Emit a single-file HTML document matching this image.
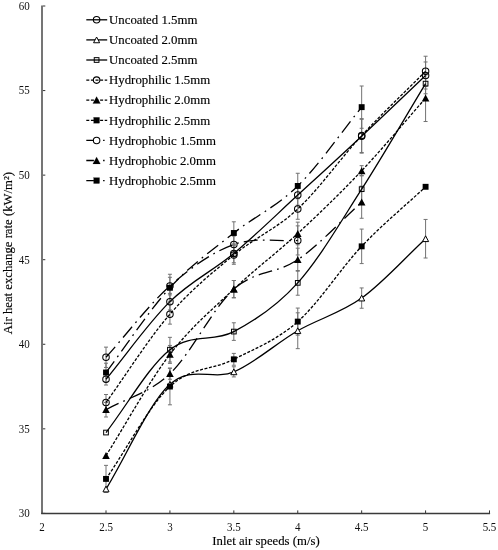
<!DOCTYPE html>
<html><head><meta charset="utf-8"><title>Air heat exchange rate chart</title>
<style>html,body{margin:0;padding:0;background:#fff}body{width:498px;height:550px;overflow:hidden}</style></head>
<body>
<svg width="498" height="550" viewBox="0 0 498 550" style="display:block;font-family:'Liberation Serif',serif">
<rect width="498" height="550" fill="#fff"/>
<g stroke="#333" stroke-width="1" fill="none">
<line x1="42.8" y1="513.40" x2="45.3" y2="513.40"/>
<line x1="42.8" y1="428.83" x2="45.3" y2="428.83"/>
<line x1="42.8" y1="344.27" x2="45.3" y2="344.27"/>
<line x1="42.8" y1="259.70" x2="45.3" y2="259.70"/>
<line x1="42.8" y1="175.13" x2="45.3" y2="175.13"/>
<line x1="42.8" y1="90.57" x2="45.3" y2="90.57"/>
<line x1="42.8" y1="6.00" x2="45.3" y2="6.00"/>
<line x1="42.10" y1="513" x2="42.10" y2="510.4"/>
<line x1="106.01" y1="513" x2="106.01" y2="510.4"/>
<line x1="169.93" y1="513" x2="169.93" y2="510.4"/>
<line x1="233.84" y1="513" x2="233.84" y2="510.4"/>
<line x1="297.76" y1="513" x2="297.76" y2="510.4"/>
<line x1="361.67" y1="513" x2="361.67" y2="510.4"/>
<line x1="425.59" y1="513" x2="425.59" y2="510.4"/>
<line x1="489.50" y1="513" x2="489.50" y2="510.4"/>
</g>
<line x1="42" y1="5.5" x2="42" y2="514" stroke="#666" stroke-width="1.8"/>
<line x1="41.2" y1="513.5" x2="490.1" y2="513.5" stroke="#3a3a3a" stroke-width="1.5"/>
<g font-size="11.6" fill="#111" text-anchor="end">
<text transform="translate(29.8 517.20) scale(0.948 1)">30</text>
<text transform="translate(29.8 432.63) scale(0.948 1)">35</text>
<text transform="translate(29.8 348.07) scale(0.948 1)">40</text>
<text transform="translate(29.8 263.50) scale(0.948 1)">45</text>
<text transform="translate(29.8 178.93) scale(0.948 1)">50</text>
<text transform="translate(29.8 94.37) scale(0.948 1)">55</text>
<text transform="translate(29.8 9.80) scale(0.948 1)">60</text>
</g>
<g font-size="11.6" fill="#111" text-anchor="middle">
<text transform="translate(42.10 530.8) scale(0.948 1)">2</text>
<text transform="translate(106.01 530.8) scale(0.948 1)">2.5</text>
<text transform="translate(169.93 530.8) scale(0.948 1)">3</text>
<text transform="translate(233.84 530.8) scale(0.948 1)">3.5</text>
<text transform="translate(297.76 530.8) scale(0.948 1)">4</text>
<text transform="translate(361.67 530.8) scale(0.948 1)">4.5</text>
<text transform="translate(425.59 530.8) scale(0.948 1)">5</text>
<text transform="translate(489.50 530.8) scale(0.948 1)">5.5</text>
</g>
<text transform="translate(266 545.3) scale(0.946 1)" font-size="13.5" fill="#000" stroke="#000" stroke-width="0.15" text-anchor="middle">Inlet air speeds (m/s)</text>
<text transform="translate(11.5 253.1) rotate(-90)" font-size="12.75" fill="#000" stroke="#000" stroke-width="0.15" text-anchor="middle">Air heat exchange rate (kW/m²)</text>
<g stroke="#727272" stroke-width="1" fill="none">
<path d="M106.01 373.53 V385.03 M104.01 373.53 h4 M104.01 385.03 h4"/>
<path d="M169.93 293.36 V309.93 M167.93 293.36 h4 M167.93 309.93 h4"/>
<path d="M233.84 244.14 V262.74 M231.84 244.14 h4 M231.84 262.74 h4"/>
<path d="M297.76 184.94 V205.24 M295.76 184.94 h4 M295.76 205.24 h4"/>
<path d="M361.67 119.32 V153.15 M359.67 119.32 h4 M359.67 153.15 h4"/>
<path d="M425.59 61.98 V89.04 M423.59 61.98 h4 M423.59 89.04 h4"/>
<path d="M233.84 366.76 V376.91 M231.84 366.76 h4 M231.84 376.91 h4"/>
<path d="M297.76 312.81 V348.66 M295.76 312.81 h4 M295.76 348.66 h4"/>
<path d="M361.67 287.95 V308.24 M359.67 287.95 h4 M359.67 308.24 h4"/>
<path d="M425.59 219.45 V258.01 M423.59 219.45 h4 M423.59 258.01 h4"/>
<path d="M169.93 337.33 V362.03 M167.93 337.33 h4 M167.93 362.03 h4"/>
<path d="M233.84 322.79 V340.38 M231.84 322.79 h4 M231.84 340.38 h4"/>
<path d="M297.76 270.52 V295.22 M295.76 270.52 h4 M295.76 295.22 h4"/>
<path d="M361.67 175.64 V202.70 M359.67 175.64 h4 M359.67 202.70 h4"/>
<path d="M425.59 73.48 V93.78 M423.59 73.48 h4 M423.59 93.78 h4"/>
<path d="M106.01 394.50 V410.40 M104.01 394.50 h4 M104.01 410.40 h4"/>
<path d="M169.93 304.18 V324.14 M167.93 304.18 h4 M167.93 324.14 h4"/>
<path d="M233.84 245.66 V264.27 M231.84 245.66 h4 M231.84 264.27 h4"/>
<path d="M297.76 198.64 V219.28 M295.76 198.64 h4 M295.76 219.28 h4"/>
<path d="M361.67 118.64 V152.47 M359.67 118.64 h4 M359.67 152.47 h4"/>
<path d="M425.59 56.23 V86.34 M423.59 56.23 h4 M423.59 86.34 h4"/>
<path d="M169.93 345.45 V363.38 M167.93 345.45 h4 M167.93 363.38 h4"/>
<path d="M233.84 280.50 V297.75 M231.84 280.50 h4 M231.84 297.75 h4"/>
<path d="M297.76 222.15 V244.82 M295.76 222.15 h4 M295.76 244.82 h4"/>
<path d="M361.67 165.66 V175.81 M359.67 165.66 h4 M359.67 175.81 h4"/>
<path d="M425.59 74.84 V121.52 M423.59 74.84 h4 M423.59 121.52 h4"/>
<path d="M106.01 465.37 V492.43 M104.01 465.37 h4 M104.01 492.43 h4"/>
<path d="M169.93 368.28 V404.82 M167.93 368.28 h4 M167.93 404.82 h4"/>
<path d="M233.84 353.40 V365.24 M231.84 353.40 h4 M231.84 365.24 h4"/>
<path d="M297.76 308.07 V335.13 M295.76 308.07 h4 M295.76 335.13 h4"/>
<path d="M361.67 229.09 V263.59 M359.67 229.09 h4 M359.67 263.59 h4"/>
<path d="M106.01 347.14 V367.44 M104.01 347.14 h4 M104.01 367.44 h4"/>
<path d="M169.93 277.29 V294.88 M167.93 277.29 h4 M167.93 294.88 h4"/>
<path d="M233.84 236.02 V252.93 M231.84 236.02 h4 M231.84 252.93 h4"/>
<path d="M297.76 225.87 V254.96 M295.76 225.87 h4 M295.76 254.96 h4"/>
<path d="M106.01 402.45 V416.99 M104.01 402.45 h4 M104.01 416.99 h4"/>
<path d="M169.93 368.11 V379.28 M167.93 368.11 h4 M167.93 379.28 h4"/>
<path d="M233.84 280.50 V297.75 M231.84 280.50 h4 M231.84 297.75 h4"/>
<path d="M297.76 248.20 V271.20 M295.76 248.20 h4 M295.76 271.20 h4"/>
<path d="M361.67 186.13 V218.26 M359.67 186.13 h4 M359.67 218.26 h4"/>
<path d="M106.01 363.21 V381.81 M104.01 363.21 h4 M104.01 381.81 h4"/>
<path d="M169.93 274.25 V301.31 M167.93 274.25 h4 M167.93 301.31 h4"/>
<path d="M233.84 221.81 V244.14 M231.84 221.81 h4 M231.84 244.14 h4"/>
<path d="M297.76 173.27 V198.64 M295.76 173.27 h4 M295.76 198.64 h4"/>
<path d="M361.67 86.00 V128.28 M359.67 86.00 h4 M359.67 128.28 h4"/>
</g>
<path d="M106.01 379.28 C127.32 353.40 148.62 322.62 169.93 301.65 C191.23 280.67 212.54 271.20 233.84 253.44 C255.15 235.68 276.45 214.63 297.76 195.09 C319.06 175.56 340.37 156.16 361.67 136.23 C382.98 116.30 404.28 95.75 425.59 75.51" fill="none" stroke="#000" stroke-width="1.30"/>
<circle cx="106.01" cy="379.28" r="3.25" fill="none" stroke="#000" stroke-width="1.05"/>
<circle cx="169.93" cy="301.65" r="3.25" fill="none" stroke="#000" stroke-width="1.05"/>
<circle cx="233.84" cy="253.44" r="3.25" fill="none" stroke="#000" stroke-width="1.05"/>
<circle cx="297.76" cy="195.09" r="3.25" fill="none" stroke="#000" stroke-width="1.05"/>
<circle cx="361.67" cy="136.23" r="3.25" fill="none" stroke="#000" stroke-width="1.05"/>
<circle cx="425.59" cy="75.51" r="3.25" fill="none" stroke="#000" stroke-width="1.05"/>
<path d="M106.01 489.04 C127.32 454.15 148.62 403.89 169.93 384.35 C191.23 364.82 212.54 380.77 233.84 371.84 C255.15 362.90 276.45 343.03 297.76 330.74 C319.06 318.45 340.37 313.43 361.67 298.09 C382.98 282.76 404.28 258.52 425.59 238.73" fill="none" stroke="#000" stroke-width="1.30"/>
<path d="M106.01 486.14 L109.06 491.89 L102.96 491.89 Z" fill="#fff" stroke="#000" stroke-width="1"/>
<path d="M169.93 381.45 L172.98 387.20 L166.88 387.20 Z" fill="#fff" stroke="#000" stroke-width="1"/>
<path d="M233.84 368.94 L236.89 374.69 L230.79 374.69 Z" fill="#fff" stroke="#000" stroke-width="1"/>
<path d="M297.76 327.84 L300.81 333.59 L294.71 333.59 Z" fill="#fff" stroke="#000" stroke-width="1"/>
<path d="M361.67 295.19 L364.72 300.94 L358.62 300.94 Z" fill="#fff" stroke="#000" stroke-width="1"/>
<path d="M425.59 235.83 L428.64 241.58 L422.54 241.58 Z" fill="#fff" stroke="#000" stroke-width="1"/>
<path d="M106.01 432.55 C127.32 404.93 148.62 366.51 169.93 349.68 C191.23 332.85 212.54 342.72 233.84 331.58 C255.15 320.45 276.45 306.61 297.76 282.87 C319.06 259.14 340.37 222.38 361.67 189.17 C382.98 155.96 404.28 118.81 425.59 83.63" fill="none" stroke="#000" stroke-width="1.30"/>
<rect x="103.66" y="430.20" width="4.7" height="4.7" fill="none" stroke="#000" stroke-width="1"/>
<rect x="167.58" y="347.33" width="4.7" height="4.7" fill="none" stroke="#000" stroke-width="1"/>
<rect x="231.49" y="329.23" width="4.7" height="4.7" fill="none" stroke="#000" stroke-width="1"/>
<rect x="295.41" y="280.52" width="4.7" height="4.7" fill="none" stroke="#000" stroke-width="1"/>
<rect x="359.32" y="186.82" width="4.7" height="4.7" fill="none" stroke="#000" stroke-width="1"/>
<rect x="423.24" y="81.28" width="4.7" height="4.7" fill="none" stroke="#000" stroke-width="1"/>
<path d="M106.01 402.45 C127.32 373.02 148.62 338.74 169.93 314.16 C191.23 289.58 212.54 272.50 233.84 254.96 C255.15 237.43 276.45 228.86 297.76 208.96 C319.06 189.06 340.37 158.50 361.67 135.56 C382.98 112.61 404.28 92.71 425.59 71.29" fill="none" stroke="#000" stroke-width="1.30" stroke-dasharray="3 1.6"/>
<circle cx="106.01" cy="402.45" r="3.25" fill="none" stroke="#000" stroke-width="1.05"/>
<circle cx="169.93" cy="314.16" r="3.25" fill="none" stroke="#000" stroke-width="1.05"/>
<circle cx="233.84" cy="254.96" r="3.25" fill="none" stroke="#000" stroke-width="1.05"/>
<circle cx="297.76" cy="208.96" r="3.25" fill="none" stroke="#000" stroke-width="1.05"/>
<circle cx="361.67" cy="135.56" r="3.25" fill="none" stroke="#000" stroke-width="1.05"/>
<circle cx="425.59" cy="71.29" r="3.25" fill="none" stroke="#000" stroke-width="1.05"/>
<path d="M106.01 455.56 C127.32 421.84 148.62 382.15 169.93 354.41 C191.23 326.68 212.54 309.28 233.84 289.13 C255.15 268.97 276.45 253.22 297.76 233.48 C319.06 213.75 340.37 193.29 361.67 170.74 C382.98 148.18 404.28 122.36 425.59 98.18" fill="none" stroke="#000" stroke-width="1.30" stroke-dasharray="3 1.6"/>
<path d="M106.01 451.96 L109.81 458.96 L102.21 458.96 Z" fill="#000"/>
<path d="M169.93 350.81 L173.73 357.81 L166.13 357.81 Z" fill="#000"/>
<path d="M233.84 285.53 L237.64 292.53 L230.04 292.53 Z" fill="#000"/>
<path d="M297.76 229.88 L301.56 236.88 L293.96 236.88 Z" fill="#000"/>
<path d="M361.67 167.14 L365.47 174.14 L357.87 174.14 Z" fill="#000"/>
<path d="M425.59 94.58 L429.39 101.58 L421.79 101.58 Z" fill="#000"/>
<path d="M106.01 478.90 C127.32 448.11 148.62 406.48 169.93 386.55 C191.23 366.62 212.54 370.14 233.84 359.32 C255.15 348.50 276.45 340.43 297.76 321.60 C319.06 302.77 340.37 268.81 361.67 246.34 C382.98 223.87 404.28 206.65 425.59 186.80" fill="none" stroke="#000" stroke-width="1.30" stroke-dasharray="3 1.6"/>
<rect x="103.06" y="475.95" width="5.9" height="5.9" fill="#000"/>
<rect x="166.98" y="383.60" width="5.9" height="5.9" fill="#000"/>
<rect x="230.89" y="356.37" width="5.9" height="5.9" fill="#000"/>
<rect x="294.81" y="318.65" width="5.9" height="5.9" fill="#000"/>
<rect x="358.72" y="243.39" width="5.9" height="5.9" fill="#000"/>
<rect x="422.64" y="183.85" width="5.9" height="5.9" fill="#000"/>
<path d="M106.01 357.29 C127.32 333.55 148.62 304.89 169.93 286.08 C191.23 267.28 212.54 252.09 233.84 244.48 C255.15 236.87 276.45 241.77 297.76 240.42" fill="none" stroke="#000" stroke-width="1.30" stroke-dasharray="14 5.2 1.7 5.2"/>
<circle cx="106.01" cy="357.29" r="3.25" fill="none" stroke="#000" stroke-width="1.05"/>
<circle cx="169.93" cy="286.08" r="3.25" fill="none" stroke="#000" stroke-width="1.05"/>
<circle cx="233.84" cy="244.48" r="3.25" fill="none" stroke="#000" stroke-width="1.05"/>
<circle cx="297.76" cy="240.42" r="3.25" fill="none" stroke="#000" stroke-width="1.05"/>
<path d="M106.01 409.72 C127.32 397.71 148.62 393.79 169.93 373.70 C191.23 353.60 212.54 308.13 233.84 289.13 C255.15 270.13 276.45 274.19 297.76 259.70 C319.06 245.21 340.37 221.36 361.67 202.19" fill="none" stroke="#000" stroke-width="1.30" stroke-dasharray="14 5.2 1.7 5.2"/>
<path d="M106.01 406.12 L109.81 413.12 L102.21 413.12 Z" fill="#000"/>
<path d="M169.93 370.10 L173.73 377.10 L166.13 377.10 Z" fill="#000"/>
<path d="M233.84 285.53 L237.64 292.53 L230.04 292.53 Z" fill="#000"/>
<path d="M297.76 256.10 L301.56 263.10 L293.96 263.10 Z" fill="#000"/>
<path d="M361.67 198.59 L365.47 205.59 L357.87 205.59 Z" fill="#000"/>
<path d="M106.01 372.51 C127.32 344.27 148.62 311.03 169.93 287.78 C191.23 264.52 212.54 249.95 233.84 232.98 C255.15 216.01 276.45 206.93 297.76 185.96 C319.06 164.99 340.37 133.41 361.67 107.14" fill="none" stroke="#000" stroke-width="1.30" stroke-dasharray="14 5.2 1.7 5.2"/>
<rect x="103.06" y="369.56" width="5.9" height="5.9" fill="#000"/>
<rect x="166.98" y="284.83" width="5.9" height="5.9" fill="#000"/>
<rect x="230.89" y="230.03" width="5.9" height="5.9" fill="#000"/>
<rect x="294.81" y="183.01" width="5.9" height="5.9" fill="#000"/>
<rect x="358.72" y="104.19" width="5.9" height="5.9" fill="#000"/>
<g font-size="13.3" fill="#000" stroke="#000" stroke-width="0.15">
<line x1="86.3" y1="19.80" x2="107.2" y2="19.80" stroke="#000" stroke-width="1.30"/>
<circle cx="96.60" cy="19.80" r="3.25" fill="none" stroke="#000" stroke-width="1.05"/>
<text transform="translate(109.0 24.00) scale(0.966 1)">Uncoated 1.5mm</text>
<line x1="86.3" y1="39.90" x2="107.2" y2="39.90" stroke="#000" stroke-width="1.30"/>
<path d="M96.60 37.00 L99.65 42.75 L93.55 42.75 Z" fill="#fff" stroke="#000" stroke-width="1"/>
<text transform="translate(109.0 44.10) scale(0.966 1)">Uncoated 2.0mm</text>
<line x1="86.3" y1="60.00" x2="107.2" y2="60.00" stroke="#000" stroke-width="1.30"/>
<rect x="94.25" y="57.65" width="4.7" height="4.7" fill="none" stroke="#000" stroke-width="1"/>
<text transform="translate(109.0 64.20) scale(0.966 1)">Uncoated 2.5mm</text>
<line x1="86.3" y1="80.10" x2="107.2" y2="80.10" stroke="#000" stroke-width="1.30" stroke-dasharray="3 1.6"/>
<circle cx="96.60" cy="80.10" r="3.25" fill="none" stroke="#000" stroke-width="1.05"/>
<text transform="translate(109.0 84.30) scale(0.966 1)">Hydrophilic 1.5mm</text>
<line x1="86.3" y1="100.20" x2="107.2" y2="100.20" stroke="#000" stroke-width="1.30" stroke-dasharray="3 1.6"/>
<path d="M96.60 96.60 L100.40 103.60 L92.80 103.60 Z" fill="#000"/>
<text transform="translate(109.0 104.40) scale(0.966 1)">Hydrophilic 2.0mm</text>
<line x1="86.3" y1="120.30" x2="107.2" y2="120.30" stroke="#000" stroke-width="1.30" stroke-dasharray="3 1.6"/>
<rect x="93.65" y="117.35" width="5.9" height="5.9" fill="#000"/>
<text transform="translate(109.0 124.50) scale(0.966 1)">Hydrophilic 2.5mm</text>
<line x1="86.3" y1="140.40" x2="107.2" y2="140.40" stroke="#000" stroke-width="1.30" stroke-dasharray="7.6 9.2 1.5 20"/>
<circle cx="96.60" cy="140.40" r="3.25" fill="none" stroke="#000" stroke-width="1.05"/>
<text transform="translate(109.0 144.60) scale(0.966 1)">Hydrophobic 1.5mm</text>
<line x1="86.3" y1="160.50" x2="107.2" y2="160.50" stroke="#000" stroke-width="1.30" stroke-dasharray="7.6 9.2 1.5 20"/>
<path d="M96.60 156.90 L100.40 163.90 L92.80 163.90 Z" fill="#000"/>
<text transform="translate(109.0 164.70) scale(0.966 1)">Hydrophobic 2.0mm</text>
<line x1="86.3" y1="180.60" x2="107.2" y2="180.60" stroke="#000" stroke-width="1.30" stroke-dasharray="7.6 9.2 1.5 20"/>
<rect x="93.65" y="177.65" width="5.9" height="5.9" fill="#000"/>
<text transform="translate(109.0 184.80) scale(0.966 1)">Hydrophobic 2.5mm</text>
</g>
</svg>
</body></html>
